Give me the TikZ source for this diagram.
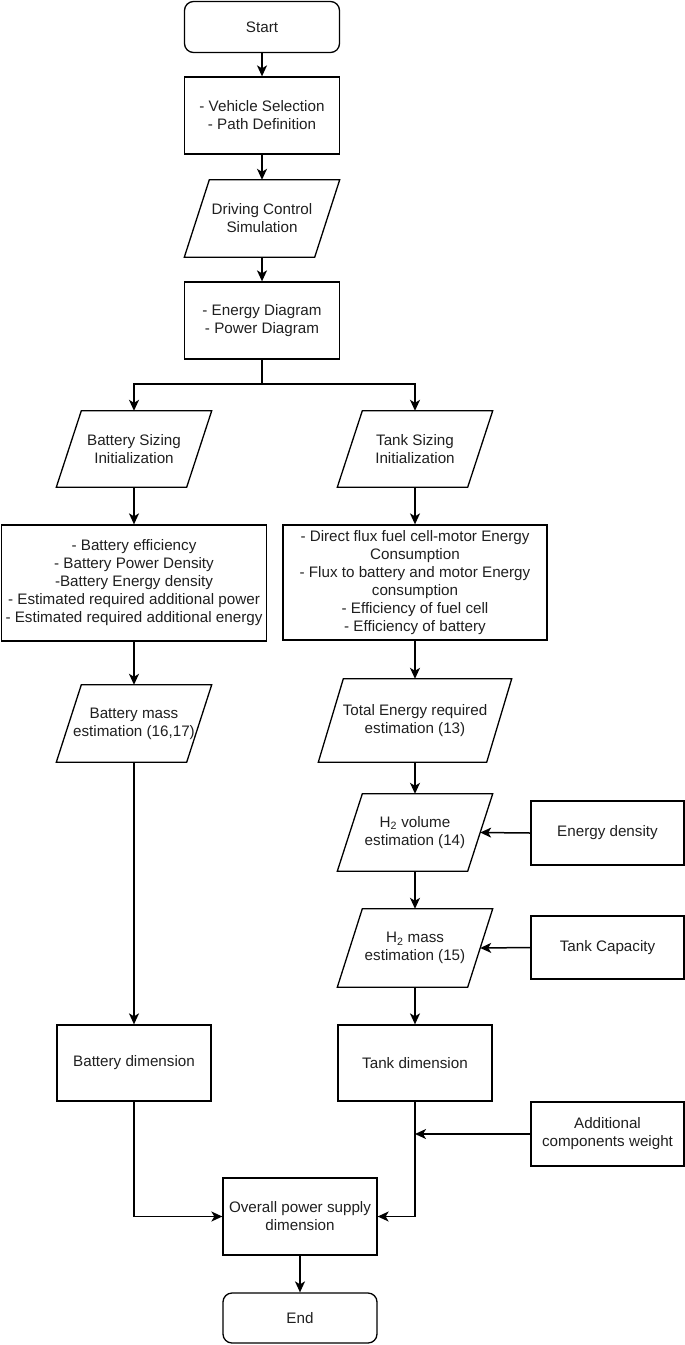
\documentclass[tikz,border=0pt]{standalone}
\usepackage{fontspec}
\setmainfont{Liberation Sans}
\usetikzlibrary{arrows.meta}
\begin{document}
\begin{tikzpicture}[x=1pt,y=-1pt,
  every node/.style={font=\fontsize{15.2}{18}\selectfont, text=black!88, align=center, inner sep=0pt},
  box/.style={draw, line width=1.3pt},
  rbox/.style={draw, line width=1.3pt, rounded corners=9pt},
  para/.style={},
  conn/.style={line width=1.5pt, -{Stealth[length=11pt,width=10pt,inset=3pt]}},
  line/.style={line width=1.5pt}]
\useasboundingbox (0,0) rectangle (685,1345);

\node[rbox, minimum width=155pt, minimum height=51pt] (start) at (262,27) {Start};
\node[box, minimum width=155pt, minimum height=77pt] (vs) at (262,115.5) {- Vehicle Selection\\- Path Definition};
\node[para, minimum width=155pt, minimum height=77pt] (drive) at (262,218.5) {Driving Control\\Simulation};
\node[box, minimum width=155pt, minimum height=77pt] (ediag) at (262,320.5) {- Energy Diagram\\- Power Diagram};
\coordinate (split) at (262,384);

\node[para, minimum width=155pt, minimum height=76pt] (bsize) at (134,449) {Battery Sizing\\Initialization};
\node[para, minimum width=155pt, minimum height=76pt] (tsize) at (415,449) {Tank Sizing\\Initialization};

\node[box, minimum width=265pt, minimum height=116pt] (bbox) at (134,583) {- Battery efficiency\\- Battery Power Density\\-Battery Energy density\\- Estimated required additional power\\- Estimated required additional energy};
\node[box, minimum width=264pt, minimum height=115pt] (tbox) at (415,582.5) {- Direct flux fuel cell-motor Energy\\Consumption\\- Flux to battery and motor Energy\\consumption\\- Efficiency of fuel cell\\- Efficiency of battery};

\node[para, minimum width=155pt, minimum height=77pt] (bmass) at (134,723.5) {Battery mass\\estimation (16,17)};
\node[para, minimum width=193pt, minimum height=83pt] (total) at (415,720.5) {Total Energy required\\estimation (13)};
\node[para, minimum width=155pt, minimum height=77pt] (h2v) at (415,832.5) {H\textsubscript{2} volume\\estimation (14)};
\node[box, minimum width=153pt, minimum height=64pt] (edens) at (607.5,833) {Energy density};
\node[para, minimum width=155pt, minimum height=78pt] (h2m) at (415,948) {H\textsubscript{2} mass\\estimation (15)};
\node[box, minimum width=153pt, minimum height=63pt] (tcap) at (607.5,947.5) {Tank Capacity};

\node[box, minimum width=154pt, minimum height=76pt] (bdim) at (134,1063) {Battery dimension};
\node[box, minimum width=154pt, minimum height=76pt] (tdim) at (415,1063) {Tank dimension};
\node[box, minimum width=153pt, minimum height=64pt] (addc) at (607.5,1134) {Additional\\components weight};
\coordinate (join) at (415,1134);
\node[box, minimum width=154pt, minimum height=77pt] (overall) at (300,1216.5) {Overall power supply\\dimension};
\node[rbox, minimum width=154pt, minimum height=50pt] (end) at (300,1318) {End};

\foreach \n in {drive,bsize,tsize,bmass,total,h2v,h2m}
  \draw[line width=1.3pt] ([xshift=25pt]\n.north west) -- (\n.north east) -- ([xshift=-25pt]\n.south east) -- (\n.south west) -- cycle;

\draw[conn] (start) -- (vs);
\draw[conn] (vs) -- (drive);
\draw[conn] (drive) -- (ediag);
\draw[line] (ediag.south) -- (split);
\draw[conn] (split) -| (bsize.north);
\draw[conn] (split) -| (tsize.north);
\draw[conn] (bsize) -- (bbox);
\draw[conn] (tsize) -- (tbox);
\draw[conn] (bbox) -- (bmass);
\draw[conn] (tbox) -- (total);
\draw[conn] (total) -- (h2v);
\draw[conn] (h2v) -- (h2m);
\draw[conn] (edens.west) -- ([xshift=-12.5pt]h2v.east);
\draw[conn] (tcap.west) -- ([xshift=-12.5pt]h2m.east);
\draw[conn] (bmass) -- (bdim);
\draw[conn] (h2m) -- (tdim);
\draw[conn] (bdim.south) |- (overall.west);
\draw[conn] (tdim.south) |- (overall.east);
\draw[conn] (addc.west) -- (join);
\draw[conn] (overall) -- (end);
\end{tikzpicture}
\end{document}
